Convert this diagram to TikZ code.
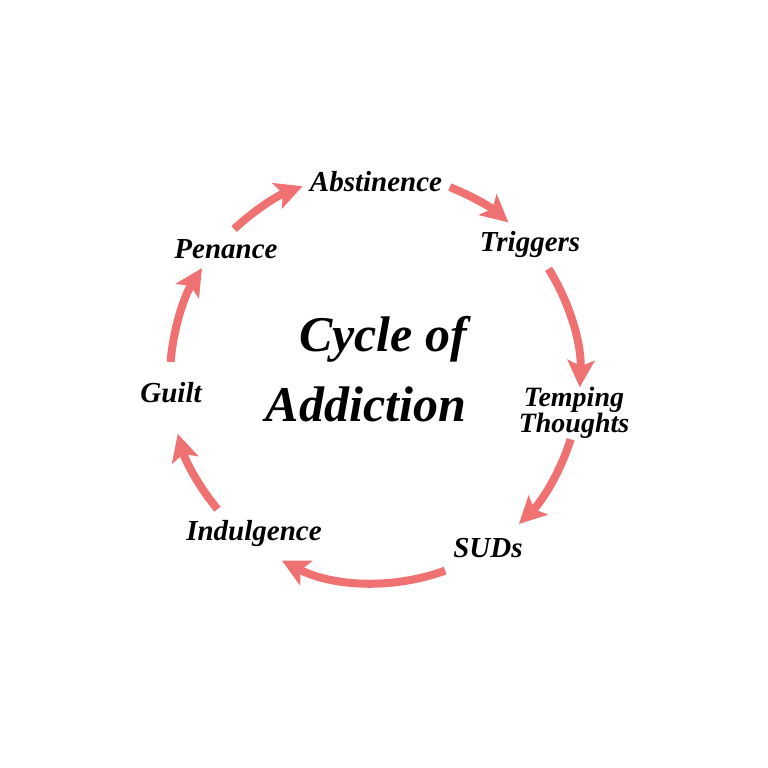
\documentclass[tikz,border=0pt]{standalone}
\usepackage{fontspec}
\setmainfont{Liberation Serif}
\usetikzlibrary{arrows.meta}
\definecolor{arrowred}{RGB}{240,113,113}
\tikzset{
  lbl/.style={anchor=base, inner sep=0pt, font=\fontsize{29}{29}\selectfont\bfseries\itshape},
  lblsmall/.style={anchor=base, inner sep=0pt, align=center, font=\fontsize{28}{23}\selectfont\bfseries\itshape},
  ttl/.style={anchor=base, inner sep=0pt, font=\fontsize{50}{50}\selectfont\bfseries\itshape},
  arr/.style={draw=arrowred, line width=8pt, -{Stealth[length=27pt,width=27pt,inset=6pt]}}
}
\begin{document}
\begin{tikzpicture}[x=1pt,y=1pt]
\path[use as bounding box, fill=white] (0,0) rectangle (768,768);
\coordinate (ctr) at (375,390);
% labels
\node[lbl] (abst) at (376,576) {Abstinence};
\node[lbl] (trig) at (530,516) {Triggers};
\node[lblsmall] (temp) at (574,335) {Temping\\Thoughts};
\node[lbl] (suds) at (488,210) {SUDs};
\node[lbl] (indu) at (254,227) {Indulgence};
\node[lbl] (guil) at (171,365) {Guilt};
\node[lbl] (pena) at (226,509) {Penance};
\node[ttl] (title1) at (383,416) {Cycle of};
\node[ttl] (title2) at (366,346) {Addiction};
% arrow start points on the circle
\coordinate (s1) at ([shift={(133.4:205pt)}]ctr);
\coordinate (s2) at ([shift={(68.6:205pt)}]ctr);
\coordinate (s3) at ([shift={(32.2:205pt)}]ctr);
\coordinate (s4) at ([shift={(-17.4:205pt)}]ctr);
\coordinate (s5) at ([shift={(-70:205pt)}]ctr);
\coordinate (s6) at ([shift={(-140.2:205pt)}]ctr);
\coordinate (s7) at ([shift={(175.5:205pt)}]ctr);
% arrows
\draw[arr] (s1) arc[start angle=133.4, end angle=110.7, radius=205pt];
\draw[arr] (s2) arc[start angle=68.6, end angle=49.4, radius=205pt];
\draw[arr] (s3) arc[start angle=32.2, end angle=-2.6, radius=205pt];
\draw[arr] (s4) arc[start angle=-17.4, end angle=-45.4, radius=205pt];
\draw[arr] (s5) arc[start angle=-70, end angle=-117, radius=205pt];
\draw[arr] (s6) arc[start angle=-140.2, end angle=-164.2, radius=205pt];
\draw[arr] (s7) arc[start angle=175.5, end angle=147.6, radius=205pt];
\end{tikzpicture}
\end{document}
